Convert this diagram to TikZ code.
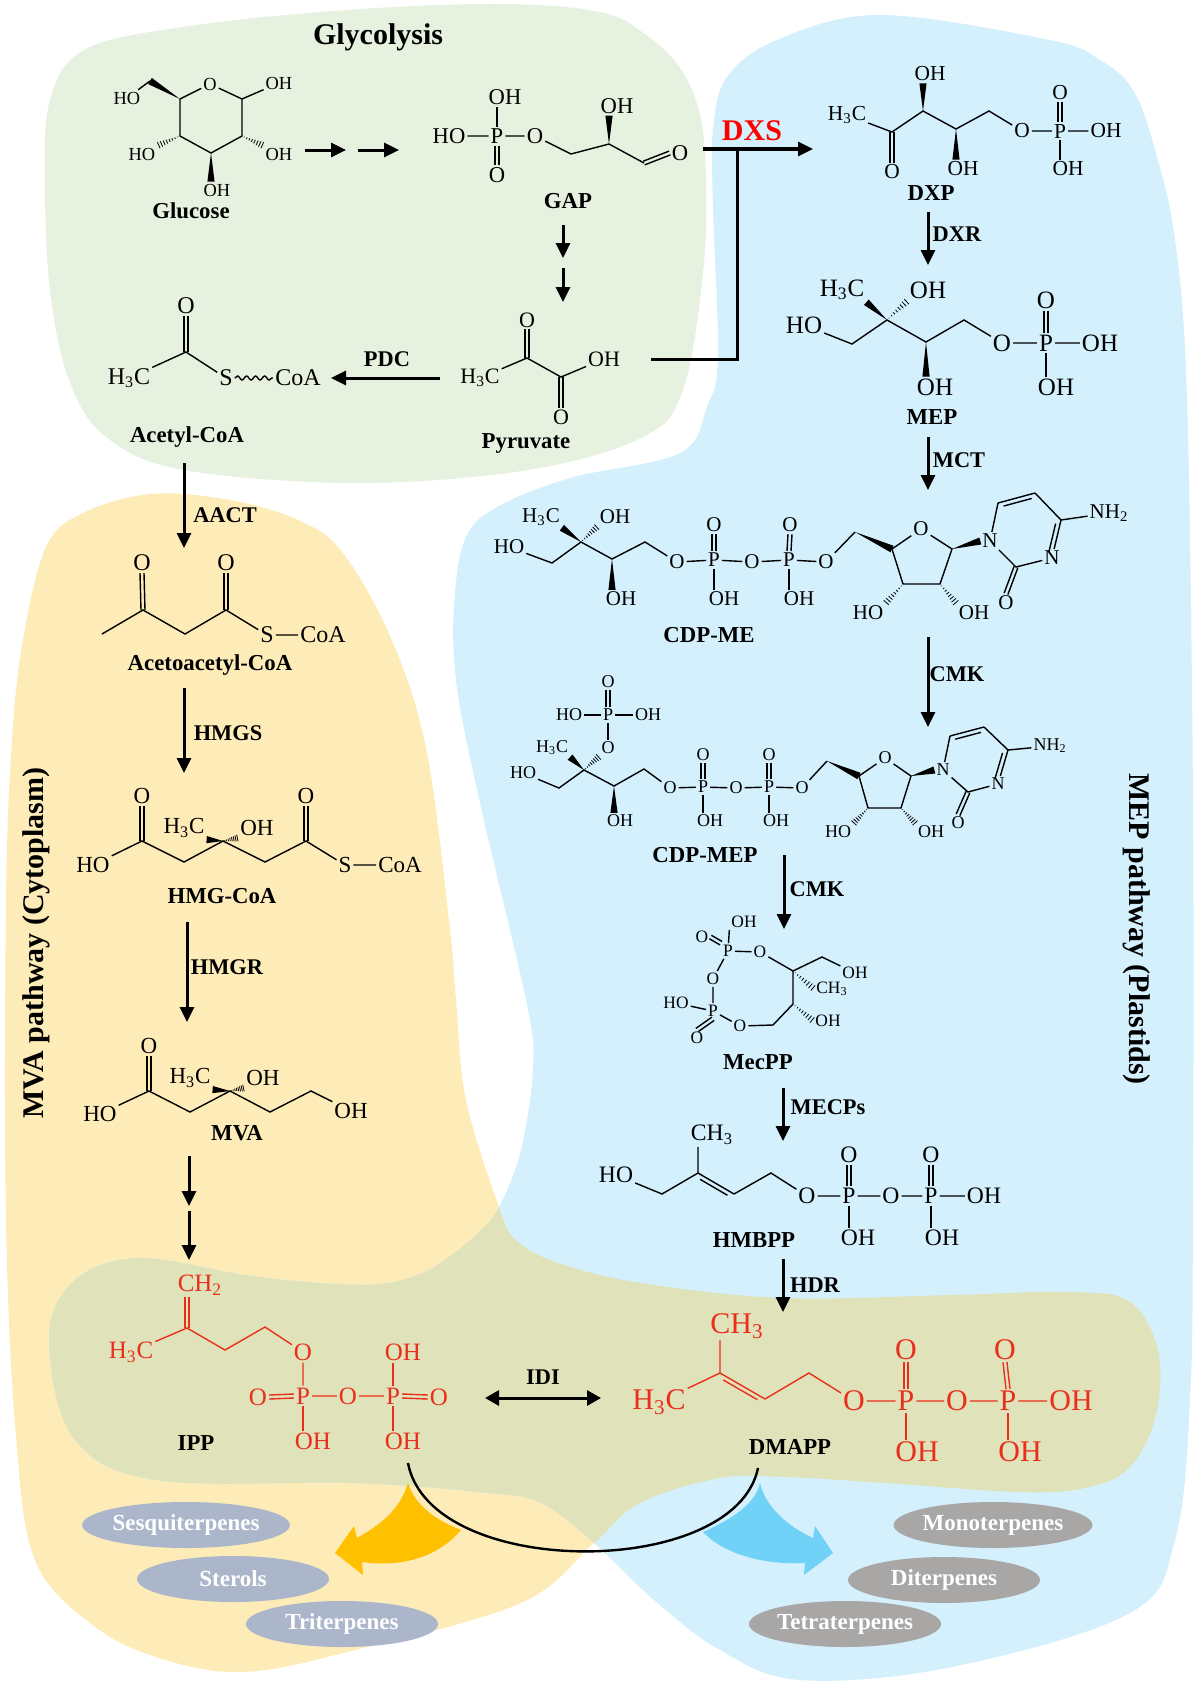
\documentclass[tikz,border=0pt]{standalone}
\usepackage{fontspec}
\setmainfont{Liberation Serif}
\usetikzlibrary{arrows.meta,calc,shapes.geometric,decorations.pathmorphing}

\definecolor{glycolgreen}{HTML}{E7F1E0}
\definecolor{mvayellow}{HTML}{FDEBB8}
\definecolor{mepblue}{HTML}{D3F0FC}
\definecolor{overlapolive}{HTML}{E0E3B9}
\definecolor{ippred}{HTML}{EA2E1C}
\definecolor{mvaellipse}{HTML}{ABB6CB}
\definecolor{mepellipse}{HTML}{A9A6A6}
\definecolor{mvaarrow}{HTML}{FFC000}
\definecolor{meparrow}{HTML}{71D2F8}

\tikzset{
  atoms/.style={every node/.append style={font=\fontsize{#1}{#1}\selectfont, inner sep=0.7pt}, line width=0.7pt},
  compound/.style={font=\fontsize{11.4}{11.4}\selectfont\bfseries, inner sep=0pt},
  enzyme/.style={font=\fontsize{11.2}{11.2}\selectfont\bfseries, inner sep=0pt},
  pathtitle/.style={font=\fontsize{15}{15}\selectfont\bfseries, inner sep=0pt},
  rxn/.style={-{Triangle[length=7.5pt,width=7pt]}, line width=1.5pt},
  terpene/.style={ellipse, minimum width=96pt, minimum height=23pt, inner sep=0pt, text=white, font=\fontsize{11.5}{11.5}\selectfont\bfseries}
}

\newcommand{\hthree}{H\textsubscript{3}C}
\newcommand{\chthree}{CH\textsubscript{3}}
\newcommand{\chtwo}{CH\textsubscript{2}}
\newcommand{\nhtwo}{NH\textsubscript{2}}
\newcommand{\wedgebond}[2]{\fill (#1) -- ($(#2)!1.8pt!90:(#1)$) -- ($(#2)!1.8pt!-90:(#1)$) -- cycle;}
\newcommand{\hashbond}[2]{\foreach \hs in {0.1,0.22,...,1.0}{\draw[line width=0.4pt] ($(#1)!\hs!(#2)!\hs*1.8pt!90:(#2)$) -- ($(#1)!\hs!(#2)!\hs*1.8pt!-90:(#2)$);}}
\newcommand{\dblbond}[2]{\draw ($(#1)!1pt!90:(#2)$) -- ($(#2)!1pt!-90:(#1)$); \draw ($(#1)!1pt!-90:(#2)$) -- ($(#2)!1pt!90:(#1)$);}
\newcommand{\innerbond}[2]{\draw (#1) -- (#2); \draw ($(#1)!.12!(#2)!2.2pt!90:(#2)$) -- ($(#1)!.88!(#2)!2.2pt!90:(#2)$);}

\newcommand{\greenblob}{plot[smooth cycle, tension=0.6] coordinates {(84,50) (182,27) (346,10) (500,4) (600,12) (645,34) (680,68) (700,115) (706,180) (703,273) (683,390) (643,437) (528,470) (358,483) (184,470) (106,437) (69,380) (50,290) (45,180) (50,100)}}
\newcommand{\yellowblob}{plot[smooth cycle, tension=0.6] coordinates {(23,640) (46,547) (83,513) (151,494) (230,500) (298,520) (343,553) (393,643) (427,753) (450,929) (456,1000) (466,1100) (499,1207) (516,1240) (558,1263) (641,1283) (783,1298) (952,1295) (1071,1292) (1130,1302) (1158,1351) (1156,1415) (1130,1467) (1085,1488) (1018,1492) (886,1483) (786,1477) (720,1478) (640,1503) (594,1543) (521,1603) (355,1650) (243,1672) (156,1657) (90,1623) (35,1560) (16,1437) (6,1220) (6,900) (12,740)}}
\newcommand{\blueblob}{plot[smooth cycle, tension=0.6] coordinates {(713,130) (727,77) (777,40) (880,15) (1050,40) (1100,60) (1133,90) (1155,150) (1175,240) (1187,400) (1193,800) (1193,1200) (1190,1400) (1175,1540) (1130,1613) (952,1667) (800,1680) (720,1650) (654,1600) (594,1543) (541,1503) (488,1493) (355,1483) (156,1480) (73,1437) (49,1337) (75,1280) (139,1258) (245,1275) (320,1283) (380,1284) (420,1274) (449,1257) (478,1233) (499,1207) (521,1150) (533,1067) (526,1000) (480,803) (456,680) (455,593) (468,533) (505,503) (574,477) (680,453) (707,407) (718,357) (713,207)}}

\begin{document}
\begin{tikzpicture}[x=0.5pt,y=-0.5pt]
    \useasboundingbox (0,0) rectangle (1200,1682);

    % Regiones de fondo
    \fill[glycolgreen] \greenblob;
    \fill[mvayellow] \yellowblob;
    \fill[mepblue] \blueblob;
    \begin{scope}
        \clip \yellowblob;
        \fill[overlapolive] \blueblob;
    \end{scope}

    % Titulos
    \node[pathtitle] (glyTitle) at (378,37) {Glycolysis};
    \node[pathtitle, rotate=90] (mvaTitle) at (36,943) {MVA pathway (Cytoplasm)};
    \node[pathtitle, rotate=-90] (mepTitle) at (1137,929) {MEP pathway (Plastids)};

    % Glucose
    \begin{scope}[atoms=9.2]
        \node (gluO) at (210,84) {O};
        \coordinate (gluCa) at (242,99);
        \coordinate (gluCb) at (242,136);
        \coordinate (gluCc) at (211,153);
        \coordinate (gluCd) at (180,136);
        \coordinate (gluCe) at (180,99);
        \coordinate (gluCf) at (150,81);
        \node (gluHOa) at (127,98) {HO};
        \node (gluOHa) at (279,83) {OH};
        \node (gluHOb) at (142,154) {HO};
        \node (gluOHb) at (279,154) {OH};
        \node (gluOHc) at (217,190) {OH};
        \draw (gluCe) -- (gluO) -- (gluCa) -- (gluCb) -- (gluCc) -- (gluCd) -- (gluCe);
        \draw (gluCa) -- (gluOHa);
        \draw (gluCf) -- (gluHOa);
        \wedgebond{gluCe}{gluCf}
        \wedgebond{gluCc}{gluCc |- gluOHc.north}
        \hashbond{gluCd}{gluHOb.north east}
        \hashbond{gluCb}{gluOHb.north west}
    \end{scope}
    \node[compound] (gluName) at (191,211) {Glucose};
    \coordinate (gluArrA) at (305,150);
    \coordinate (gluArrB) at (346,150);
    \coordinate (gluArrC) at (358,150);
    \coordinate (gluArrD) at (399,150);
    \draw[rxn] (gluArrA) -- (gluArrB);
    \draw[rxn] (gluArrC) -- (gluArrD);

    % GAP
    \begin{scope}[atoms=11.3]
        \node (gapHO) at (449,136) {HO};
        \node (gapP) at (497,136) {P};
        \node (gapO) at (535,136) {O};
        \node (gapOHa) at (505,97) {OH};
        \node (gapOb) at (497,175) {O};
        \coordinate (gapCa) at (571,154);
        \coordinate (gapCb) at (609,144);
        \coordinate (gapCc) at (644,163);
        \node (gapOHb) at (617,106) {OH};
        \node (gapOc) at (680,153) {O};
        \draw (gapHO) -- (gapP) -- (gapO) -- (gapCa) -- (gapCb) -- (gapCc);
        \draw (gapP) -- (gapP |- gapOHa.south);
        \dblbond{gapP.south}{gapOb.north}
        \wedgebond{gapCb}{gapCb |- gapOHb.south}
        \dblbond{gapCc}{gapOc.west}
    \end{scope}
    \node[compound] (gapName) at (568,201) {GAP};
    \coordinate (gapArrA) at (563,225);
    \coordinate (gapArrB) at (563,258);
    \coordinate (gapArrC) at (563,268);
    \coordinate (gapArrD) at (563,302);
    \draw[rxn] (gapArrA) -- (gapArrB);
    \draw[rxn] (gapArrC) -- (gapArrD);

    % Pyruvate
    \begin{scope}[atoms=11]
        \node (pyrMe) at (480,378) {\hthree};
        \coordinate (pyrCa) at (527,358);
        \node (pyrOa) at (527,320) {O};
        \coordinate (pyrCb) at (561,377);
        \node (pyrOH) at (604,359) {OH};
        \node (pyrOb) at (561,417) {O};
        \draw (pyrMe) -- (pyrCa) -- (pyrCb) -- (pyrOH);
        \dblbond{pyrCa}{pyrOa.south}
        \dblbond{pyrCb}{pyrOb.north}
    \end{scope}
    \node[compound] (pyrName) at (526,443) {Pyruvate};

    % Acetyl-CoA
    \begin{scope}[atoms=12]
        \node (acMe) at (129,378) {\hthree};
        \coordinate (acC) at (186,352);
        \node (acO) at (186,306) {O};
        \node (acS) at (226,378) {S};
        \node (acCoA) at (298,378) {CoA};
        \draw (acMe) -- (acC) -- (acS);
        \dblbond{acC}{acO.south}
        \draw[decorate, decoration={snake, amplitude=1pt, segment length=4.5pt}] (acS) -- (acCoA);
    \end{scope}
    \node[compound] (acName) at (187,437) {Acetyl-CoA};

    % PDC
    \coordinate (pdcS) at (440,378);
    \coordinate (pdcE) at (331,378);
    \draw[rxn] (pdcS) -- (pdcE);
    \node[enzyme] (pdcLabel) at (387,359) {PDC};

    % DXS
    \coordinate (dxsS) at (703,149);
    \coordinate (dxsE) at (813,149);
    \coordinate (dxsJ) at (737,149);
    \coordinate (pyrOut) at (651,359);
    \draw[line width=1.5pt] (pyrOut) -| (dxsJ);
    \draw[rxn, line width=1.6pt] (dxsS) -- (dxsE);
    \node[pathtitle, text=red] (dxsLabel) at (752,131) {DXS};

    % DXP
    \begin{scope}[atoms=10.7]
        \node (dxpMe) at (847,115) {\hthree};
        \coordinate (dxpCa) at (892,132);
        \node (dxpOa) at (892,172) {O};
        \coordinate (dxpCb) at (923,111);
        \node (dxpOHa) at (930,74) {OH};
        \coordinate (dxpCc) at (956,129);
        \node (dxpOHb) at (963,169) {OH};
        \coordinate (dxpCd) at (989,111);
        \node (dxpOb) at (1022,131) {O};
        \node (dxpP) at (1060,131) {P};
        \node (dxpOc) at (1060,93) {O};
        \node (dxpOHc) at (1106,131) {OH};
        \node (dxpOHd) at (1068,169) {OH};
        \draw (dxpMe) -- (dxpCa) -- (dxpCb) -- (dxpCc) -- (dxpCd) -- (dxpOb) -- (dxpP) -- (dxpOHc);
        \draw (dxpP) -- (dxpP |- dxpOHd.north);
        \dblbond{dxpCa}{dxpOa.north}
        \dblbond{dxpP.north}{dxpOc.south}
        \wedgebond{dxpCb}{dxpCb |- dxpOHa.south}
        \wedgebond{dxpCc}{dxpCc |- dxpOHb.north}
    \end{scope}
    \node[compound] (dxpName) at (931,193) {DXP};
    \coordinate (dxrS) at (928,212);
    \coordinate (dxrE) at (928,265);
    \draw[rxn] (dxrS) -- (dxrE);
    \node[enzyme] (dxrLabel) at (957,234) {DXR};

    % MEP
    \begin{scope}[atoms=12.5]
        \node (mepMe) at (842,290) {\hthree};
        \node (mepOHa) at (928,290) {OH};
        \node (mepHO) at (804,325) {HO};
        \coordinate (mepCa) at (852,344);
        \coordinate (mepCb) at (887,320);
        \coordinate (mepCc) at (926,342);
        \node (mepOHb) at (935,387) {OH};
        \coordinate (mepCd) at (964,320);
        \node (mepOa) at (1002,343) {O};
        \node (mepP) at (1046,343) {P};
        \node (mepOb) at (1046,300) {O};
        \node (mepOHc) at (1100,343) {OH};
        \node (mepOHd) at (1056,387) {OH};
        \draw (mepHO) -- (mepCa) -- (mepCb) -- (mepCc) -- (mepCd) -- (mepOa) -- (mepP) -- (mepOHc);
        \draw (mepP) -- (mepP |- mepOHd.north);
        \dblbond{mepP.north}{mepOb.south}
        \wedgebond{mepCb}{mepMe.south east}
        \hashbond{mepCb}{mepOHa.south west}
        \wedgebond{mepCc}{mepCc |- mepOHb.north}
    \end{scope}
    \node[compound] (mepName) at (932,417) {MEP};
    \coordinate (mctS) at (928,437);
    \coordinate (mctE) at (928,490);
    \draw[rxn] (mctS) -- (mctE);
    \node[enzyme] (mctLabel) at (959,460) {MCT};

    % CDP-ME
    \begin{scope}[atoms=10.5]
        \node (cdpMe) at (541,517) {\hthree};
        \node (cdpOHa) at (615,517) {OH};
        \node (cdpHOa) at (509,547) {HO};
        \coordinate (cdpCa) at (552,563);
        \coordinate (cdpCb) at (581,542);
        \coordinate (cdpCc) at (612,559);
        \node (cdpOHb) at (621,599) {OH};
        \coordinate (cdpCd) at (645,542);
        \node (cdpOa) at (677,562) {O};
        \node (cdpPa) at (714,560) {P};
        \node (cdpOb) at (714,525) {O};
        \node (cdpOHc) at (724,599) {OH};
        \node (cdpOc) at (752,562) {O};
        \node (cdpPb) at (789,560) {P};
        \node (cdpOd) at (790,525) {O};
        \node (cdpOHd) at (799,599) {OH};
        \node (cdpOe) at (826,562) {O};
        \coordinate (cdpCe) at (855,532);
        \coordinate (cdpRa) at (892,549);
        \node (cdpOr) at (921,529) {O};
        \coordinate (cdpRb) at (952,549);
        \coordinate (cdpRc) at (940,584);
        \coordinate (cdpRd) at (903,584);
        \node (cdpHOb) at (868,613) {HO};
        \node (cdpOHe) at (974,613) {OH};
        \node (cdpNa) at (990,541) {N};
        \coordinate (cdpBa) at (998,503);
        \coordinate (cdpBb) at (1035,493);
        \coordinate (cdpBc) at (1061,520);
        \node (cdpNH) at (1109,513) {\nhtwo};
        \node (cdpNb) at (1052,558) {N};
        \coordinate (cdpBd) at (1016,567);
        \node (cdpOf) at (1006,603) {O};
        \draw (cdpHOa) -- (cdpCa) -- (cdpCb) -- (cdpCc) -- (cdpCd) -- (cdpOa) -- (cdpPa) -- (cdpOc) -- (cdpPb) -- (cdpOe) -- (cdpCe);
        \draw (cdpPa) -- (cdpPa |- cdpOHc.north);
        \draw (cdpPb) -- (cdpPb |- cdpOHd.north);
        \dblbond{cdpPa.north}{cdpOb.south}
        \dblbond{cdpPb.north}{cdpOd.south}
        \wedgebond{cdpCb}{cdpMe.south east}
        \hashbond{cdpCb}{cdpOHa.south west}
        \wedgebond{cdpCc}{cdpCc |- cdpOHb.north}
        \wedgebond{cdpCe}{cdpRa}
        \draw (cdpRa) -- (cdpOr) -- (cdpRb) -- (cdpRc) -- (cdpRd) -- (cdpRa);
        \hashbond{cdpRd}{cdpHOb.north east}
        \hashbond{cdpRc}{cdpOHe.north west}
        \wedgebond{cdpRb}{cdpNa.west}
        \draw (cdpNa) -- (cdpBa);
        \innerbond{cdpBb}{cdpBa}
        \draw (cdpBb) -- (cdpBc) -- (cdpNH);
        \innerbond{cdpNb}{cdpBc}
        \draw (cdpNb) -- (cdpBd) -- (cdpNa);
        \dblbond{cdpBd}{cdpOf.north}
    \end{scope}
    \node[compound] (cdpName) at (709,635) {CDP-ME};
    \coordinate (cmkaS) at (928,637);
    \coordinate (cmkaE) at (928,727);
    \draw[rxn] (cmkaS) -- (cmkaE);
    \node[enzyme] (cmkaLabel) at (957,674) {CMK};

    % CDP-MEP
    \begin{scope}[atoms=9]
        \node (cmpOa) at (608,682) {O};
        \node (cmpPa) at (608,715) {P};
        \node (cmpHOa) at (569,715) {HO};
        \node (cmpOHa) at (648,715) {OH};
        \node (cmpOb) at (608,748) {O};
        \node (cmpMe) at (552,748) {\hthree};
        \coordinate (cmpCa) at (584,770);
        \node (cmpHOb) at (523,773) {HO};
        \coordinate (cmpCb) at (559,788);
        \coordinate (cmpCc) at (614,786);
        \node (cmpOHb) at (620,821) {OH};
        \coordinate (cmpCd) at (644,769);
        \node (cmpOc) at (670,788) {O};
        \node (cmpPb) at (703,787) {P};
        \node (cmpOd) at (703,755) {O};
        \node (cmpOHc) at (710,821) {OH};
        \node (cmpOe) at (736,788) {O};
        \node (cmpPc) at (769,787) {P};
        \node (cmpOf) at (769,755) {O};
        \node (cmpOHd) at (776,821) {OH};
        \node (cmpOg) at (802,788) {O};
        \coordinate (cmpCe) at (827,761);
        \coordinate (cmpRa) at (859,776);
        \node (cmpOr) at (885,758) {O};
        \coordinate (cmpRb) at (911,776);
        \coordinate (cmpRc) at (901,808);
        \coordinate (cmpRd) at (868,808);
        \node (cmpHOc) at (838,832) {HO};
        \node (cmpOHe) at (931,832) {OH};
        \node (cmpNa) at (943,770) {N};
        \coordinate (cmpBa) at (950,736);
        \coordinate (cmpBb) at (984,727);
        \coordinate (cmpBc) at (1008,750);
        \node (cmpNH) at (1050,746) {\nhtwo};
        \node (cmpNb) at (998,784) {N};
        \coordinate (cmpBd) at (968,792);
        \node (cmpOh) at (958,823) {O};
        \draw (cmpHOa) -- (cmpPa) -- (cmpOHa);
        \draw (cmpPa) -- (cmpOb);
        \dblbond{cmpPa.north}{cmpOa.south}
        \draw (cmpHOb) -- (cmpCb) -- (cmpCa) -- (cmpCc) -- (cmpCd) -- (cmpOc) -- (cmpPb) -- (cmpOe) -- (cmpPc) -- (cmpOg) -- (cmpCe);
        \draw (cmpPb) -- (cmpPb |- cmpOHc.north);
        \draw (cmpPc) -- (cmpPc |- cmpOHd.north);
        \dblbond{cmpPb.north}{cmpOd.south}
        \dblbond{cmpPc.north}{cmpOf.south}
        \wedgebond{cmpCa}{cmpMe.south east}
        \hashbond{cmpCa}{cmpOb.south west}
        \wedgebond{cmpCc}{cmpCc |- cmpOHb.north}
        \wedgebond{cmpCe}{cmpRa}
        \draw (cmpRa) -- (cmpOr) -- (cmpRb) -- (cmpRc) -- (cmpRd) -- (cmpRa);
        \hashbond{cmpRd}{cmpHOc.north east}
        \hashbond{cmpRc}{cmpOHe.north west}
        \wedgebond{cmpRb}{cmpNa.west}
        \draw (cmpNa) -- (cmpBa);
        \innerbond{cmpBb}{cmpBa}
        \draw (cmpBb) -- (cmpBc) -- (cmpNH);
        \innerbond{cmpNb}{cmpBc}
        \draw (cmpNb) -- (cmpBd) -- (cmpNa);
        \dblbond{cmpBd}{cmpOh.north}
    \end{scope}
    \node[compound] (cmpName) at (705,855) {CDP-MEP};
    \coordinate (cmkbS) at (784,855);
    \coordinate (cmkbE) at (784,929);
    \draw[rxn] (cmkbS) -- (cmkbE);
    \node[enzyme] (cmkbLabel) at (817,889) {CMK};

    % MecPP
    \begin{scope}[atoms=8.7]
        \node (mecOHa) at (744,922) {OH};
        \node (mecPa) at (728,951) {P};
        \node (mecOa) at (702,937) {O};
        \node (mecOb) at (760,952) {O};
        \coordinate (mecCa) at (793,971);
        \coordinate (mecCb) at (822,957);
        \node (mecOHb) at (855,973) {OH};
        \node (mecMe) at (832,989) {\chthree};
        \coordinate (mecCc) at (793,1004);
        \node (mecOHc) at (828,1021) {OH};
        \coordinate (mecCd) at (773,1025);
        \node (mecOc) at (740,1026) {O};
        \node (mecPb) at (713,1011) {P};
        \node (mecOd) at (713,979) {O};
        \node (mecHO) at (676,1003) {HO};
        \node (mecOe) at (697,1038) {O};
        \draw (mecOHa.south west) -- (mecPa) -- (mecOb) -- (mecCa) -- (mecCc) -- (mecCd) -- (mecOc) -- (mecPb) -- (mecOd) -- (mecPa);
        \draw (mecCa) -- (mecCb) -- (mecOHb);
        \draw (mecHO) -- (mecPb);
        \dblbond{mecPa.north west}{mecOa.east}
        \dblbond{mecPb.south}{mecOe.north}
        \hashbond{mecCa}{mecMe.west}
        \hashbond{mecCc}{mecOHc.west}
    \end{scope}
    \node[compound] (mecName) at (758,1062) {MecPP};
    \coordinate (mecpS) at (783,1088);
    \coordinate (mecpE) at (783,1141);
    \draw[rxn] (mecpS) -- (mecpE);
    \node[enzyme] (mecpLabel) at (828,1107) {MECPs};

    % HMBPP
    \begin{scope}[atoms=11.8]
        \node (hmbMe) at (712,1135) {\chthree};
        \coordinate (hmbCa) at (698,1173);
        \node (hmbHO) at (616,1175) {HO};
        \coordinate (hmbCb) at (662,1194);
        \coordinate (hmbCc) at (734,1194);
        \coordinate (hmbCd) at (771,1173);
        \node (hmbOa) at (807,1196) {O};
        \node (hmbPa) at (849,1196) {P};
        \node (hmbOb) at (849,1155) {O};
        \node (hmbOHa) at (858,1238) {OH};
        \node (hmbOc) at (891,1196) {O};
        \node (hmbPb) at (931,1196) {P};
        \node (hmbOd) at (931,1155) {O};
        \node (hmbOHb) at (984,1196) {OH};
        \node (hmbOHc) at (942,1238) {OH};
        \draw (hmbHO) -- (hmbCb) -- (hmbCa) -- (hmbCa |- hmbMe.south);
        \innerbond{hmbCc}{hmbCa}
        \draw (hmbCc) -- (hmbCd) -- (hmbOa) -- (hmbPa) -- (hmbOc) -- (hmbPb) -- (hmbOHb);
        \draw (hmbPa) -- (hmbPa |- hmbOHa.north);
        \draw (hmbPb) -- (hmbPb |- hmbOHc.north);
        \dblbond{hmbPa.north}{hmbOb.south}
        \dblbond{hmbPb.north}{hmbOd.south}
    \end{scope}
    \node[compound] (hmbName) at (754,1240) {HMBPP};
    \coordinate (hdrS) at (783,1259);
    \coordinate (hdrE) at (783,1312);
    \draw[rxn] (hdrS) -- (hdrE);
    \node[enzyme] (hdrLabel) at (815,1285) {HDR};

    % AACT
    \coordinate (aactS) at (184,463);
    \coordinate (aactE) at (184,548);
    \draw[rxn] (aactS) -- (aactE);
    \node[enzyme] (aactLabel) at (225,515) {AACT};

    % Acetoacetyl-CoA
    \begin{scope}[atoms=12]
        \node (aacOa) at (142,563) {O};
        \coordinate (aacCa) at (143,610);
        \coordinate (aacMe) at (102,634);
        \coordinate (aacCb) at (185,634);
        \coordinate (aacCc) at (226,610);
        \node (aacOb) at (226,563) {O};
        \node (aacS) at (267,635) {S};
        \node (aacCoA) at (323,635) {CoA};
        \draw (aacMe) -- (aacCa) -- (aacCb) -- (aacCc) -- (aacS) -- (aacCoA);
        \dblbond{aacCa}{aacOa.south}
        \dblbond{aacCc}{aacOb.south}
    \end{scope}
    \node[compound] (aacName) at (210,665) {Acetoacetyl-CoA};
    \coordinate (hmgsS) at (184,688);
    \coordinate (hmgsE) at (184,773);
    \draw[rxn] (hmgsS) -- (hmgsE);
    \node[enzyme] (hmgsLabel) at (228,733) {HMGS};

    % HMG-CoA
    \begin{scope}[atoms=11.5]
        \node (hmgOa) at (142,796) {O};
        \coordinate (hmgCa) at (142,841);
        \node (hmgHO) at (93,865) {HO};
        \coordinate (hmgCb) at (184,862);
        \coordinate (hmgCc) at (223,841);
        \node (hmgMe) at (184,828) {\hthree};
        \node (hmgOH) at (257,828) {OH};
        \coordinate (hmgCd) at (265,862);
        \coordinate (hmgCe) at (306,841);
        \node (hmgOb) at (306,796) {O};
        \node (hmgS) at (345,865) {S};
        \node (hmgCoA) at (400,865) {CoA};
        \draw (hmgHO) -- (hmgCa) -- (hmgCb) -- (hmgCc) -- (hmgCd) -- (hmgCe) -- (hmgS) -- (hmgCoA);
        \dblbond{hmgCa}{hmgOa.south}
        \dblbond{hmgCe}{hmgOb.south}
        \wedgebond{hmgCc}{hmgMe.south east}
        \hashbond{hmgCc}{hmgOH.south west}
    \end{scope}
    \node[compound] (hmgName) at (222,896) {HMG-CoA};
    \coordinate (hmgrS) at (187,922);
    \coordinate (hmgrE) at (187,1022);
    \draw[rxn] (hmgrS) -- (hmgrE);
    \node[enzyme] (hmgrLabel) at (227,967) {HMGR};

    % MVA
    \begin{scope}[atoms=11.5]
        \node (mvaOa) at (149,1046) {O};
        \coordinate (mvaCa) at (149,1091);
        \node (mvaHO) at (100,1114) {HO};
        \coordinate (mvaCb) at (190,1112);
        \coordinate (mvaCc) at (230,1091);
        \node (mvaMe) at (190,1078) {\hthree};
        \node (mvaOHa) at (263,1078) {OH};
        \coordinate (mvaCd) at (270,1112);
        \coordinate (mvaCe) at (311,1091);
        \node (mvaOHb) at (351,1111) {OH};
        \draw (mvaHO) -- (mvaCa) -- (mvaCb) -- (mvaCc) -- (mvaCd) -- (mvaCe) -- (mvaOHb);
        \dblbond{mvaCa}{mvaOa.south}
        \wedgebond{mvaCc}{mvaMe.south east}
        \hashbond{mvaCc}{mvaOHa.south west}
    \end{scope}
    \node[compound] (mvaName) at (237,1133) {MVA};
    \coordinate (mvaArrA) at (189,1156);
    \coordinate (mvaArrB) at (189,1206);
    \coordinate (mvaArrC) at (189,1211);
    \coordinate (mvaArrD) at (189,1260);
    \draw[rxn] (mvaArrA) -- (mvaArrB);
    \draw[rxn] (mvaArrC) -- (mvaArrD);

    % IPP
    \begin{scope}[atoms=12.5, color=ippred]
        \node (ippCH) at (200,1285) {\chtwo};
        \coordinate (ippCa) at (187,1328);
        \node (ippMe) at (131,1352) {\hthree};
        \coordinate (ippCb) at (225,1350);
        \coordinate (ippCc) at (265,1327);
        \node (ippOa) at (303,1352) {O};
        \node (ippPa) at (303,1396) {P};
        \node (ippOb) at (258,1397) {O};
        \node (ippOc) at (348,1396) {O};
        \node (ippPb) at (393,1396) {P};
        \node (ippOd) at (439,1397) {O};
        \node (ippOHa) at (403,1352) {OH};
        \node (ippOHb) at (313,1441) {OH};
        \node (ippOHc) at (403,1441) {OH};
        \draw (ippMe) -- (ippCa) -- (ippCb) -- (ippCc) -- (ippOa) -- (ippPa) -- (ippOc) -- (ippPb);
        \draw (ippPb) -- (ippPb |- ippOHa.south);
        \draw (ippPa) -- (ippPa |- ippOHb.north);
        \draw (ippPb) -- (ippPb |- ippOHc.north);
        \dblbond{ippCa}{ippCa |- ippCH.south}
        \dblbond{ippPa.west}{ippOb.east}
        \dblbond{ippPb.east}{ippOd.west}
    \end{scope}
    \node[compound] (ippName) at (196,1443) {IPP};

    % IDI
    \node[enzyme] (idiLabel) at (543,1377) {IDI};
    \coordinate (idiS) at (485,1398);
    \coordinate (idiE) at (601,1398);
    \draw[line width=1.5pt, {Triangle[length=7pt,width=7.5pt]}-{Triangle[length=7pt,width=7.5pt]}] (idiS) -- (idiE);

    % DMAPP
    \begin{scope}[atoms=15, color=ippred]
        \node (dmaCH) at (737,1326) {\chthree};
        \coordinate (dmaCa) at (720,1373);
        \node (dmaMe) at (659,1402) {\hthree};
        \coordinate (dmaCb) at (765,1399);
        \coordinate (dmaCc) at (809,1373);
        \node (dmaOa) at (854,1401) {O};
        \node (dmaPa) at (906,1401) {P};
        \node (dmaOb) at (906,1350) {O};
        \node (dmaOHa) at (917,1452) {OH};
        \node (dmaOc) at (957,1401) {O};
        \node (dmaPb) at (1008,1401) {P};
        \node (dmaOd) at (1005,1350) {O};
        \node (dmaOHb) at (1071,1401) {OH};
        \node (dmaOHc) at (1020,1452) {OH};
        \draw (dmaCa |- dmaCH.south) -- (dmaCa) -- (dmaMe);
        \innerbond{dmaCb}{dmaCa}
        \draw (dmaCb) -- (dmaCc) -- (dmaOa) -- (dmaPa) -- (dmaOc) -- (dmaPb) -- (dmaOHb);
        \draw (dmaPa) -- (dmaPa |- dmaOHa.north);
        \draw (dmaPb) -- (dmaPb |- dmaOHc.north);
        \dblbond{dmaPa.north}{dmaOb.south}
        \dblbond{dmaPb.north}{dmaOd.south}
    \end{scope}
    \node[compound] (dmaName) at (790,1447) {DMAPP};

    % Flechas curvas
    \fill[mvaarrow] (408,1483) .. controls (415,1505) and (435,1520) .. (461,1530) .. controls (440,1555) and (405,1568) .. (362,1562) -- (363,1575) -- (335,1553) -- (354,1526) -- (357,1538) .. controls (380,1525) and (400,1510) .. (408,1483) -- cycle;
    \fill[meparrow] (760,1483) .. controls (765,1505) and (785,1525) .. (813,1538) -- (815,1526) -- (833,1553) -- (804,1575) -- (805,1563) .. controls (765,1565) and (725,1555) .. (703,1532) .. controls (730,1520) and (755,1505) .. (760,1483) -- cycle;
    \coordinate (linkS) at (408,1463);
    \coordinate (linkE) at (758,1468);
    \draw[line width=1.2pt] (linkS) .. controls (430,1580) and (735,1580) .. (linkE);

    % Terpenos
    \node[terpene, fill=mvaellipse] (sesqui) at (186,1525) {Sesquiterpenes};
    \node[terpene, fill=mvaellipse] (sterols) at (233,1579) {Sterols};
    \node[terpene, fill=mvaellipse] (tri) at (342,1624) {Triterpenes};
    \node[terpene, fill=mepellipse] (mono) at (993,1525) {Monoterpenes};
    \node[terpene, fill=mepellipse] (di) at (944,1580) {Diterpenes};
    \node[terpene, fill=mepellipse] (tetra) at (845,1624) {Tetraterpenes};
\end{tikzpicture}
\end{document}
